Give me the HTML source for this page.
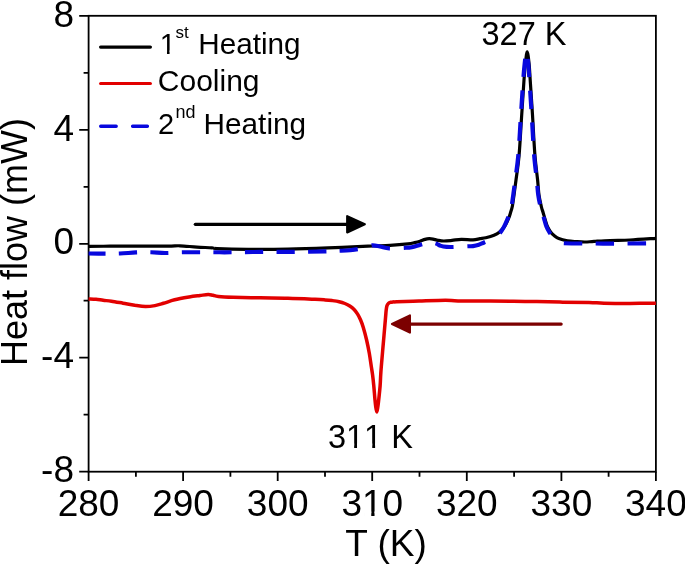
<!DOCTYPE html><html><head><meta charset="utf-8"><style>html,body{margin:0;padding:0;background:#fff;}svg{display:block;}</style></head><body><svg width="685" height="564" viewBox="0 0 685 564"><rect width="685" height="564" fill="#fff"/><rect x="88.6" y="15.8" width="567.3" height="455.9" fill="none" stroke="#000" stroke-width="1.8"/><path d="M79.2,15.8H88.6 M79.2,129.8H88.6 M79.2,243.8H88.6 M79.2,357.7H88.6 M79.2,471.7H88.6 M83.6,72.8H88.6 M83.6,186.8H88.6 M83.6,300.7H88.6 M83.6,414.7H88.6 M88.6,471.7V481.1 M183.1,471.7V481.1 M277.7,471.7V481.1 M372.2,471.7V481.1 M466.8,471.7V481.1 M561.4,471.7V481.1 M655.9,471.7V481.1 M135.9,471.7V476.7 M230.4,471.7V476.7 M325.0,471.7V476.7 M419.5,471.7V476.7 M514.1,471.7V476.7 M608.6,471.7V476.7" stroke="#000" stroke-width="1.8" fill="none"/><path d="M88.60,298.90C89.83,298.97 93.57,299.07 96.00,299.30C98.43,299.53 100.63,299.98 103.20,300.30C105.77,300.62 108.10,300.72 111.40,301.20C114.70,301.68 119.12,302.52 123.00,303.20C126.88,303.88 130.95,304.73 134.70,305.30C138.45,305.87 142.12,306.55 145.50,306.60C148.88,306.65 152.00,306.15 155.00,305.60C158.00,305.05 160.23,304.27 163.50,303.30C166.77,302.33 170.32,300.85 174.60,299.80C178.88,298.75 184.97,297.72 189.20,297.00C193.43,296.28 196.83,295.92 200.00,295.50C203.17,295.08 206.03,294.53 208.20,294.50C210.37,294.47 211.30,294.98 213.00,295.30C214.70,295.62 215.07,296.08 218.40,296.40C221.73,296.72 226.07,296.97 233.00,297.20C239.93,297.43 250.83,297.63 260.00,297.80C269.17,297.97 278.83,297.95 288.00,298.20C297.17,298.45 308.83,299.02 315.00,299.30C321.17,299.58 322.15,299.68 325.00,299.90C327.85,300.12 329.73,300.30 332.10,300.60C334.47,300.90 337.07,301.22 339.20,301.70C341.33,302.18 343.13,302.78 344.90,303.50C346.67,304.22 348.27,305.00 349.80,306.00C351.33,307.00 352.80,308.15 354.10,309.50C355.40,310.85 356.53,312.38 357.60,314.10C358.67,315.82 359.55,317.58 360.50,319.80C361.45,322.02 362.28,324.03 363.30,327.40C364.32,330.77 365.60,335.68 366.60,340.00C367.60,344.32 368.52,348.87 369.30,353.30C370.08,357.73 370.75,362.98 371.30,366.60C371.85,370.22 372.18,371.77 372.60,375.00C373.02,378.23 373.42,382.00 373.80,386.00C374.18,390.00 374.58,395.58 374.90,399.00C375.22,402.42 375.38,404.32 375.70,406.50C376.02,408.68 376.43,412.10 376.80,412.10C377.17,412.10 377.57,408.68 377.90,406.50C378.23,404.32 378.43,402.42 378.80,399.00C379.17,395.58 379.78,390.00 380.10,386.00C380.42,382.00 380.50,378.23 380.70,375.00C380.90,371.77 380.82,372.43 381.30,366.60C381.78,360.77 382.90,348.10 383.60,340.00C384.30,331.90 385.07,323.00 385.50,318.00C385.93,313.00 385.95,312.07 386.20,310.00C386.45,307.93 386.60,306.73 387.00,305.60C387.40,304.47 388.02,303.75 388.60,303.20C389.18,302.65 389.77,302.52 390.50,302.30C391.23,302.08 391.95,301.98 393.00,301.90C394.05,301.82 392.47,301.95 396.80,301.80C401.13,301.65 410.88,301.27 419.00,301.00C427.12,300.73 439.00,300.20 445.50,300.20C452.00,300.20 450.58,300.85 458.00,301.00C465.42,301.15 478.83,301.03 490.00,301.10C501.17,301.17 513.33,301.23 525.00,301.40C536.67,301.57 549.33,301.92 560.00,302.10C570.67,302.28 581.67,302.32 589.00,302.50C596.33,302.68 597.17,303.05 604.00,303.20C610.83,303.35 621.35,303.40 630.00,303.40C638.65,303.40 651.58,303.23 655.90,303.20" stroke="#E20000" stroke-width="3.5" fill="none" stroke-linejoin="round"/><path d="M88.60,246.30C92.17,246.28 102.27,246.23 110.00,246.20C117.73,246.17 125.33,246.12 135.00,246.10C144.67,246.08 160.50,246.15 168.00,246.10C175.50,246.05 175.17,245.63 180.00,245.80C184.83,245.97 191.67,246.77 197.00,247.10C202.33,247.43 208.67,247.55 212.00,247.80C215.33,248.05 211.00,248.35 217.00,248.60C223.00,248.85 236.17,249.22 248.00,249.30C259.83,249.38 274.67,249.33 288.00,249.10C301.33,248.87 314.67,248.40 328.00,247.90C341.33,247.40 357.67,246.52 368.00,246.10C378.33,245.68 383.33,245.77 390.00,245.40C396.67,245.03 403.90,244.37 408.00,243.90C412.10,243.43 412.60,243.05 414.60,242.60C416.60,242.15 418.27,241.73 420.00,241.20C421.73,240.67 423.47,239.82 425.00,239.40C426.53,238.98 427.87,238.75 429.20,238.70C430.53,238.65 431.53,238.83 433.00,239.10C434.47,239.37 436.20,239.98 438.00,240.30C439.80,240.62 441.47,240.98 443.80,241.00C446.13,241.02 449.08,240.68 452.00,240.40C454.92,240.12 457.80,239.40 461.30,239.30C464.80,239.20 469.88,239.90 473.00,239.80C476.12,239.70 477.87,239.03 480.00,238.70C482.13,238.37 483.47,238.37 485.80,237.80C488.13,237.23 491.75,236.23 494.00,235.30C496.25,234.37 497.55,233.67 499.30,232.20C501.05,230.73 502.95,228.80 504.50,226.50C506.05,224.20 507.58,220.73 508.60,218.40C509.62,216.07 509.97,214.57 510.60,212.50C511.23,210.43 511.83,208.92 512.40,206.00C512.97,203.08 513.40,199.33 514.00,195.00C514.60,190.67 515.15,186.67 516.00,180.00C516.85,173.33 518.15,165.83 519.10,155.00C520.05,144.17 520.88,127.50 521.70,115.00C522.52,102.50 523.38,88.50 524.00,80.00C524.62,71.50 524.87,68.70 525.40,64.00C525.93,59.30 526.58,51.80 527.20,51.80C527.82,51.80 528.60,59.30 529.10,64.00C529.60,68.70 529.63,71.50 530.20,80.00C530.77,88.50 531.72,102.50 532.50,115.00C533.28,127.50 534.05,144.17 534.90,155.00C535.75,165.83 536.92,173.33 537.60,180.00C538.28,186.67 538.38,190.58 539.00,195.00C539.62,199.42 540.62,203.58 541.30,206.50C541.98,209.42 542.52,210.52 543.10,212.50C543.68,214.48 544.08,216.07 544.80,218.40C545.52,220.73 546.43,224.23 547.40,226.50C548.37,228.77 549.43,230.45 550.60,232.00C551.77,233.55 553.03,234.70 554.40,235.80C555.77,236.90 556.62,237.77 558.80,238.60C560.98,239.43 564.58,240.30 567.50,240.80C570.42,241.30 573.38,241.40 576.30,241.60C579.22,241.80 582.05,242.03 585.00,242.00C587.95,241.97 589.83,241.65 594.00,241.40C598.17,241.15 604.00,240.73 610.00,240.50C616.00,240.27 622.35,240.37 630.00,240.00C637.65,239.63 651.58,238.58 655.90,238.30" stroke="#000" stroke-width="3.2" fill="none" stroke-linejoin="round"/><path d="M88.60,253.50C91.33,253.52 99.77,253.60 105.00,253.60C110.23,253.60 114.83,253.70 120.00,253.50C125.17,253.30 130.83,252.62 136.00,252.40C141.17,252.18 146.17,252.10 151.00,252.20C155.83,252.30 159.83,252.98 165.00,253.00C170.17,253.02 176.17,252.42 182.00,252.30C187.83,252.18 194.50,252.30 200.00,252.30C205.50,252.30 209.83,252.30 215.00,252.30C220.17,252.30 223.17,252.37 231.00,252.30C238.83,252.23 251.33,251.97 262.00,251.90C272.67,251.83 284.50,251.98 295.00,251.90C305.50,251.82 317.50,251.58 325.00,251.40C332.50,251.22 335.83,251.00 340.00,250.80C344.17,250.60 347.00,250.48 350.00,250.20C353.00,249.92 355.50,249.47 358.00,249.10C360.50,248.73 362.63,248.62 365.00,248.00" stroke="#0808DE" stroke-width="4.1" fill="none" stroke-dasharray="18.24 13.31" stroke-dashoffset="1.31"/><path d="M365.00,248.00C367.37,247.38 369.70,245.65 372.20,245.40C374.70,245.15 377.15,246.00 380.00,246.50C382.85,247.00 385.32,248.17 389.30,248.40C393.28,248.63 400.17,248.10 403.90,247.90C407.63,247.70 408.95,247.73 411.70,247.20C414.45,246.67 417.68,245.43 420.40,244.70C423.12,243.97 425.90,243.10 428.00,242.80C430.10,242.50 431.58,242.75 433.00,242.90C434.42,243.05 435.18,243.20 436.50,243.70C437.82,244.20 439.20,245.37 440.90,245.90C442.60,246.43 444.75,246.72 446.70,246.90C448.65,247.08 450.38,247.05 452.60,247.00C454.82,246.95 457.45,246.73 460.00,246.60C462.55,246.47 465.73,246.28 467.90,246.20C470.07,246.12 471.18,246.33 473.00,246.10C474.82,245.87 476.97,245.40 478.80,244.80C480.63,244.20 481.88,243.43 484.00,242.50C486.12,241.57 490.25,239.75 491.50,239.20" stroke="#0808DE" stroke-width="4.1" fill="none" stroke-dasharray="18.76 13.69" stroke-dashoffset="25.40"/><path d="M491.50,239.20C492.17,238.77 494.20,237.50 495.50,236.60C496.80,235.70 497.95,235.32 499.30,233.80C500.65,232.28 502.18,230.07 503.60,227.50C505.02,224.93 506.77,220.90 507.80,218.40C508.83,215.90 509.17,214.57 509.80,212.50C510.43,210.43 511.03,208.92 511.60,206.00C512.17,203.08 512.60,199.33 513.20,195.00C513.80,190.67 514.35,186.67 515.20,180.00C516.05,173.33 517.35,165.83 518.30,155.00C519.25,144.17 520.08,127.50 520.90,115.00C521.72,102.50 522.58,88.50 523.20,80.00C523.82,71.50 524.07,68.62 524.60,64.00C525.13,59.38 525.78,52.30 526.40,52.30C527.02,52.30 527.80,59.38 528.30,64.00C528.80,68.62 528.83,71.50 529.40,80.00C529.97,88.50 530.92,102.50 531.70,115.00C532.48,127.50 533.25,144.17 534.10,155.00C534.95,165.83 536.12,173.33 536.80,180.00C537.48,186.67 537.58,190.58 538.20,195.00C538.82,199.42 539.82,203.58 540.50,206.50C541.18,209.42 541.72,210.52 542.30,212.50C542.88,214.48 543.32,216.07 544.00,218.40C544.68,220.73 545.48,224.15 546.40,226.50C547.32,228.85 548.40,230.68 549.50,232.50C550.60,234.32 551.75,236.05 553.00,237.40C554.25,238.75 556.33,240.07 557.00,240.60" stroke="#0808DE" stroke-width="4.1" fill="none" stroke-dasharray="18.40 13.43" stroke-dashoffset="21.35"/><path d="M557.00,240.60C557.58,240.88 559.33,241.85 560.50,242.30C561.67,242.75 560.42,243.10 564.00,243.30C567.58,243.50 573.83,243.45 582.00,243.50C590.17,243.55 602.50,243.62 613.00,243.60C623.50,243.58 637.85,243.45 645.00,243.40C652.15,243.35 654.08,243.32 655.90,243.30" stroke="#0808DE" stroke-width="4.1" fill="none" stroke-dasharray="18.40 13.43" stroke-dashoffset="24.33"/><path d="M195.3,224.3H350" stroke="#000" stroke-width="3.2" stroke-linecap="round"/><path d="M347.2,216.2L364.8,224.3L347.2,232.4Z" fill="#000" stroke="#000" stroke-width="2.2" stroke-linejoin="round"/><path d="M561.2,324.1H408" stroke="#7C0000" stroke-width="3.1" stroke-linecap="round"/><path d="M409.9,315.4L392.0,324.0L409.9,332.5Z" fill="#7C0000" stroke="#7C0000" stroke-width="2.2" stroke-linejoin="round"/><path d="M100.6,47.1H150.4" stroke="#000" stroke-width="3.2" stroke-linecap="round"/><path d="M100.6,83.5H150.4" stroke="#E20000" stroke-width="3.1" stroke-linecap="round"/><path d="M100.7,126.2H116.2M132.6,126.2H147.4" stroke="#0808DE" stroke-width="3.4" stroke-linecap="round"/><g fill="#000" font-family="'Liberation Sans', Arial, Helvetica, sans-serif"><text x="74.0" y="26.5" font-size="37.0" text-anchor="end" >8</text><text x="74.0" y="140.5" font-size="37.0" text-anchor="end" >4</text><text x="74.0" y="254.4" font-size="37.0" text-anchor="end" >0</text><text x="74.0" y="368.4" font-size="37.0" text-anchor="end" >-4</text><text x="74.0" y="482.4" font-size="37.0" text-anchor="end" >-8</text><text x="88.6" y="516.1" font-size="37.0" text-anchor="middle" >280</text><text x="183.1" y="516.1" font-size="37.0" text-anchor="middle" >290</text><text x="277.7" y="516.1" font-size="37.0" text-anchor="middle" >300</text><g transform="translate(372.25,516.10)"><text font-size="37.0" text-anchor="middle" >310</text><path d="M-8.19,-4.56H-1.00V0.7H-8.19ZM2.27,-4.56H9.18V0.7H2.27Z" fill="#fff"/></g><text x="466.8" y="516.1" font-size="37.0" text-anchor="middle" >320</text><text x="561.4" y="516.1" font-size="37.0" text-anchor="middle" >330</text><text x="655.9" y="516.1" font-size="37.0" text-anchor="middle" >340</text><text transform="translate(26.6,242) rotate(-90)" font-size="36" text-anchor="middle">Heat flow (mW)</text><text x="386.0" y="555.9" font-size="37.0" text-anchor="middle" >T (K)</text><g transform="translate(159.70,54.40)"><text font-size="29.0" text-anchor="start" >1</text><path d="M1.52,-3.97H7.29V0.7H1.52ZM9.86,-3.97H15.40V0.7H9.86Z" fill="#fff"/></g><text x="175.6" y="38.4" font-size="17.0" text-anchor="start" >st</text><g transform="translate(198.30,54.40) scale(1.024,1)"><text font-size="29.0" text-anchor="start" >Heating</text></g><g transform="translate(157.80,91.30) scale(1.035,1)"><text font-size="29.0" text-anchor="start" >Cooling</text></g><text x="157.9" y="133.8" font-size="29.0" text-anchor="start" >2</text><text x="175.4" y="117.6" font-size="18.0" text-anchor="start" >nd</text><g transform="translate(203.60,133.80) scale(1.025,1)"><text font-size="29.0" text-anchor="start" >Heating</text></g><text x="524.0" y="45.2" font-size="32.5" text-anchor="middle" >327 K</text><g transform="translate(370.40,447.80) scale(1.001,1)"><text font-size="32.5" text-anchor="middle" style="font-kerning:none">311 K</text><path d="M-22.62,-4.23H-16.23V0.7H-22.62ZM-13.36,-4.23H-7.22V0.7H-13.36Z" fill="#fff"/><path d="M-4.55,-4.23H1.84V0.7H-4.55ZM4.71,-4.23H10.85V0.7H4.71Z" fill="#fff"/></g></g></svg></body></html>
